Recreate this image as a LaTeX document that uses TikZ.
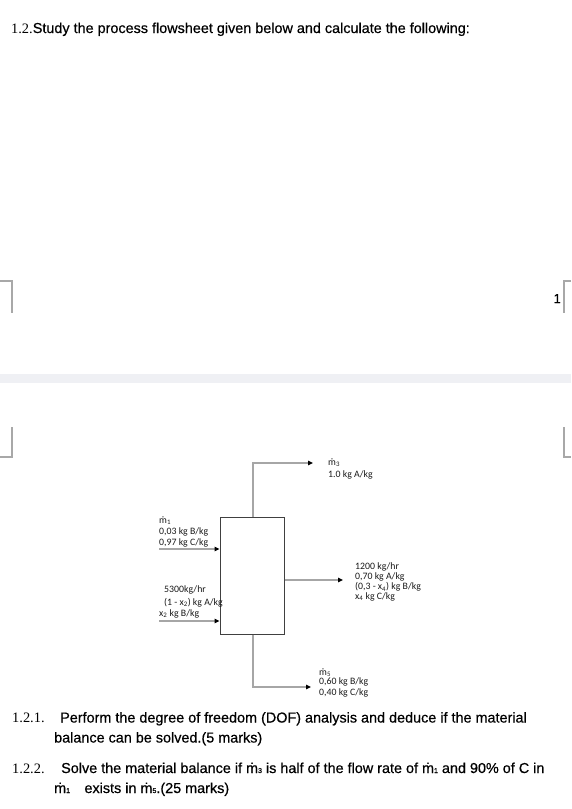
\documentclass[tikz,border=0pt]{standalone}
\usepackage{fontspec}
\setmainfont[FakeBold=0.5]{Liberation Sans}
\newfontfamily\numfont{Liberation Serif}
\newfontfamily\lblfont{Carlito}
\usetikzlibrary{arrows.meta,calc}
\definecolor{streamgray}{HTML}{A6A6A6}
\definecolor{boxgray}{HTML}{404040}
\definecolor{markgray}{HTML}{A8A8A8}
\definecolor{bandgray}{HTML}{EFF0F4}
\definecolor{txtgray}{HTML}{1A1A1A}
\tikzset{
  stream/.style={draw=streamgray,line width=1.3pt},
  flowarrow/.style={stream,-{Triangle[length=5pt,width=4.5pt,color=black,fill=black]}},
  unitbox/.style={draw=boxgray,line width=1pt,minimum width=64pt,minimum height=117pt,inner sep=0pt},
  lbl/.style={anchor=base west,inner sep=0pt,text=txtgray,font=\lblfont\fontsize{9.8}{11}\selectfont},
  qtext/.style={anchor=base west,inner sep=0pt,font=\fontsize{14.4}{17}\selectfont},
  pagemark/.style={draw=markgray,line width=1.2pt}
}
\begin{document}
\begin{tikzpicture}[x=1pt,y=-1pt]
\useasboundingbox (0,0) rectangle (571,809);
\fill[white] (0,0) rectangle (571,809);
% title
\node[qtext] (title) at (11,33) {{\numfont 1.2.}Study the process flowsheet given below and calculate the following:};
% page break decorations
\draw[pagemark] (0,281) -- (12,281) -- (12,313);
\draw[pagemark] (571,281) -- (564,281) -- (564,313);
\node[anchor=base east,inner sep=0pt,font=\fontsize{13}{15}\selectfont] (pnum) at (561,303) {1};
\fill[bandgray] (0,374) rectangle (571,383);
\draw[pagemark] (12,427) -- (12,457) -- (0,457);
\draw[pagemark] (564,427) -- (564,457) -- (571,457);
% process unit
\node[unitbox] (unit) at (252,575.5) {};
\coordinate (in1) at (159,549);
\coordinate (in2) at (159,621);
\coordinate (top) at (253,463);
\coordinate (out3) at (313,463);
\coordinate (out4) at (343,580);
\coordinate (bot) at (253,687);
\coordinate (out5) at (311,687);
\draw[flowarrow] (in1) -- (in1 -| unit.west);
\draw[flowarrow] (in2) -- (in2 -| unit.west);
\draw[flowarrow] (unit.north -| top) -- (top) -- (out3);
\draw[flowarrow] (unit.east |- out4) -- (out4);
\draw[flowarrow] (unit.south -| bot) -- (bot) -- (out5);
% labels stream 3
\node[lbl] (m3) at (328,465) {ṁ\textsubscript{3}};
\node[lbl] (m3a) at (328,477) {1.0 kg A/kg};
% stream 1
\node[lbl] (m1) at (159,523) {ṁ\textsubscript{1}};
\node[lbl] (m1b) at (159,534) {0,03 kg B/kg};
\node[lbl] (m1c) at (159,545) {0,97 kg C/kg};
% stream 2
\node[lbl] (m2) at (164,592) {5300kg/hr};
\node[lbl] (m2a) at (164,605) {(1 - x\textsubscript{2}) kg A/kg};
\node[lbl] (m2b) at (159,616) {x\textsubscript{2} kg B/kg};
% stream 4
\node[lbl] (m4) at (355,569.5) {1200 kg/hr};
\node[lbl] (m4a) at (355,579.5) {0,70 kg A/kg};
\node[lbl] (m4b) at (355,589.5) {(0,3 - x\textsubscript{4}) kg B/kg};
\node[lbl] (m4c) at (355,599) {x\textsubscript{4} kg C/kg};
% stream 5
\node[lbl] (m5) at (319,675) {ṁ\textsubscript{5}};
\node[lbl] (m5b) at (319,684.5) {0,60 kg B/kg};
\node[lbl] (m5c) at (319,695) {0,40 kg C/kg};
% questions
\node[qtext] (q1n) at (12,722.5) {\numfont 1.2.1.};
\node[qtext] (q1) at (60,722.5) {Perform the degree of freedom (DOF) analysis and deduce if the material};
\node[qtext] (q1b) at (54,742.5) {balance can be solved.(5 marks)};
\node[qtext] (q2n) at (12,773) {\numfont 1.2.2.};
\node[qtext] (q2) at (61,773) {Solve the material balance if ṁ{\fontsize{7}{8}\selectfont 3} is half of the flow rate of ṁ{\fontsize{7}{8}\selectfont 1} and 90\% of C in};
\node[qtext] (q2b) at (54,793) {ṁ{\fontsize{7}{8}\selectfont 1}\quad exists in ṁ{\fontsize{7}{8}\selectfont 5}.(25 marks)};
\end{tikzpicture}
\end{document}
